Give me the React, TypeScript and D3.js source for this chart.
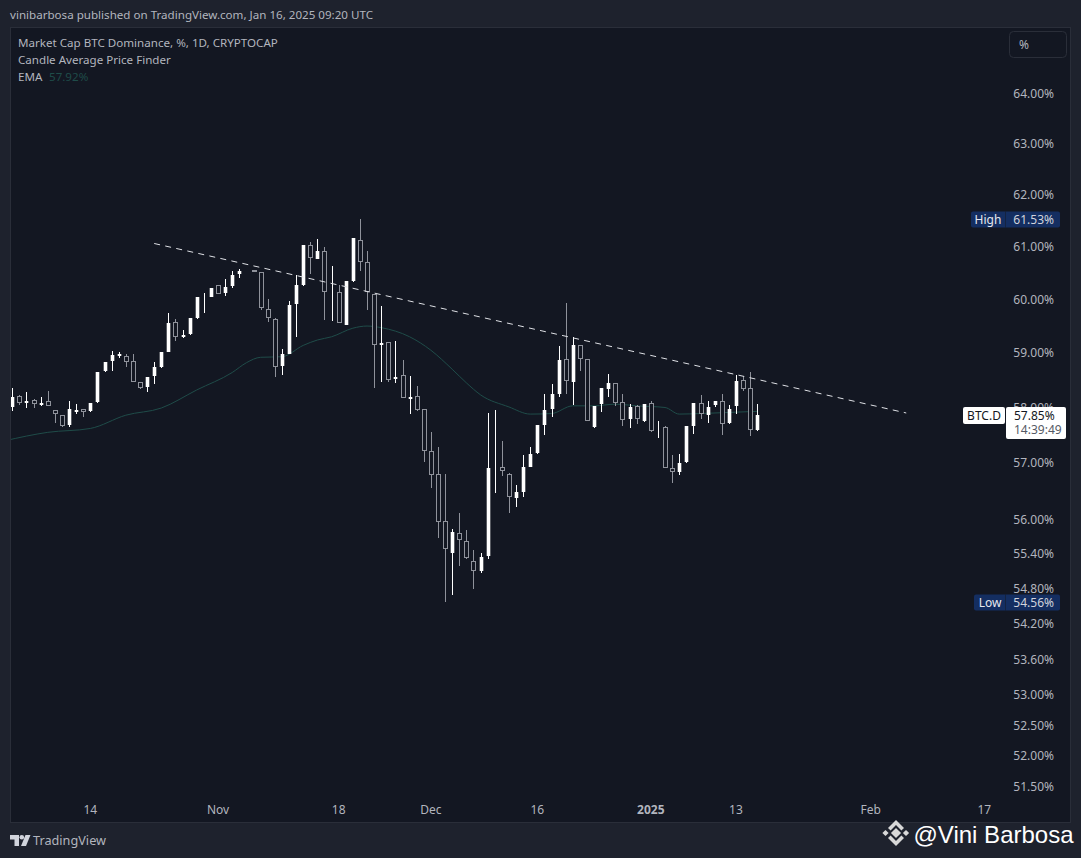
import React from "react";
import * as d3 from "d3";

// BTC.D daily candles, first one is 3 Oct 2024 (values in %)
const opens = [
  57.99, 58.2, 58.09, 58.13, 58.06, 58.11, 57.94, 57.85, 57.67, 57.94, 57.96, 57.93, 58.09, 58.65, 58.84, 58.94, 58.93, 58.84,
  58.45, 58.36, 58.56, 58.74, 59.01, 59.56, 59.3, 59.34, 59.64, 59.95, 60.04, 60.26, 60.11, 60.24, 60.47, 60.65, 60.55, 60.5,
  59.8, 59.63, 58.75, 58.98, 59.9, 60.26, 61.02, 60.76, 60.9, 60.2, 60.13, 59.51, 60.33, 61.11, 60.69, 60.09, 59.14, 59.19,
  58.51, 58.58, 58.16, 58.2, 57.96, 57.2, 56.79, 55.96, 55.4, 55.76, 55.62, 55.27, 55.1, 55.35, 57.5, 56.91, 56.8, 56.37,
  56.47, 56.92, 57.16, 57.67, 57.96, 58.24, 58.87, 58.46, 59.13, 58.87, 57.63, 58.06, 58.33, 58.43, 58.09, 57.78, 58.01, 57.74,
  58.07, 57.6, 57.63, 56.9, 56.83, 57.0, 57.65, 58.08, 57.85, 58.03, 58.11, 57.7, 58.01, 58.5, 58.34, 57.58,
];
const highs = [
  58.35, 58.21, 58.27, 58.15, 58.18, 58.29, 57.94, 57.85, 58.1, 58.06, 57.96, 58.08, 58.64, 58.82, 59.03, 59.0, 58.97, 58.97,
  58.45, 58.55, 58.82, 59.01, 59.73, 59.63, 59.42, 59.64, 60.04, 60.11, 60.21, 60.26, 60.38, 60.53, 60.56, 60.65, 60.55, 60.51,
  60.0, 59.64, 59.06, 59.96, 60.45, 61.02, 61.08, 61.14, 60.99, 60.62, 60.27, 60.34, 61.16, 61.52, 60.91, 60.09, 59.87, 59.19,
  59.21, 58.86, 58.56, 58.38, 57.96, 57.54, 57.28, 56.79, 55.83, 56.1, 55.8, 55.45, 55.4, 57.89, 57.94, 57.39, 56.81, 56.6,
  57.13, 57.28, 57.67, 58.24, 58.42, 59.11, 59.93, 59.28, 59.14, 58.87, 58.02, 58.35, 58.6, 58.44, 58.24, 58.06, 58.03, 58.06,
  58.11, 57.75, 57.66, 57.13, 57.15, 57.65, 58.07, 58.22, 58.1, 58.11, 58.24, 58.03, 58.58, 58.56, 58.64, 58.06,
];
const lows = [
  57.92, 58.03, 57.98, 57.98, 58.02, 58.01, 57.7, 57.63, 57.64, 57.87, 57.82, 57.91, 58.07, 58.63, 58.65, 58.9, 58.74, 58.46,
  58.33, 58.28, 58.42, 58.72, 59.01, 59.22, 59.26, 59.32, 59.62, 59.73, 60.04, 60.1, 60.06, 60.21, 60.39, 60.65, 60.51, 59.79,
  59.57, 58.55, 58.59, 58.97, 59.29, 60.25, 60.47, 60.75, 59.6, 59.59, 59.55, 59.51, 60.32, 60.53, 59.79, 58.34, 58.45, 58.45,
  58.44, 58.16, 57.87, 57.93, 57.01, 56.55, 55.67, 54.56, 54.68, 55.18, 55.3, 54.78, 55.06, 55.3, 56.45, 56.76, 56.1, 56.21,
  56.38, 56.92, 57.15, 57.49, 57.82, 58.18, 58.24, 58.04, 58.66, 57.75, 57.62, 57.9, 58.18, 58.02, 57.65, 57.61, 57.69, 57.72,
  57.55, 57.43, 56.9, 56.63, 56.78, 56.99, 57.51, 57.78, 57.7, 57.99, 57.49, 57.69, 57.87, 58.29, 57.47, 57.57,
];
const closes = [
  58.19, 58.07, 58.11, 58.06, 58.07, 58.01, 57.87, 57.65, 57.96, 57.95, 57.91, 58.07, 58.64, 58.82, 58.96, 58.97, 58.82, 58.46,
  58.35, 58.54, 58.73, 59.0, 59.54, 59.29, 59.32, 59.64, 60.04, 59.95, 60.21, 60.1, 60.22, 60.45, 60.53, 60.65, 60.51, 59.83,
  59.64, 58.74, 58.97, 59.88, 60.27, 61.02, 60.77, 60.91, 60.12, 60.2, 59.55, 60.34, 61.16, 60.7, 60.12, 59.14, 59.17, 58.49,
  58.55, 58.17, 58.18, 57.94, 57.21, 56.78, 55.95, 55.48, 55.77, 55.63, 55.31, 55.09, 55.33, 56.9, 57.5, 56.84, 56.39, 56.47,
  56.91, 57.15, 57.67, 57.94, 58.24, 58.86, 58.47, 59.14, 58.87, 57.75, 58.01, 58.34, 58.44, 58.08, 57.77, 58.0, 57.78, 58.05,
  57.56, 57.6, 56.9, 56.82, 56.99, 57.65, 58.07, 57.88, 58.0, 58.11, 57.69, 57.96, 58.48, 58.32, 57.59, 57.85,
];

// EMA, day number -> value
const emaDays = [-1, 5, 11, 16, 21, 26, 31, 33, 35, 38, 41, 43, 45, 48, 50, 52, 56, 59, 62, 64, 66, 70, 73, 76, 79, 82, 85, 88, 92, 94, 97, 101, 105];
const emaValues = [57.39, 57.54, 57.61, 57.85, 57.98, 58.31, 58.63, 58.81, 58.91, 58.92, 59.13, 59.23, 59.29, 59.45, 59.49, 59.46, 59.29, 59.04, 58.69, 58.44, 58.22, 58.0, 57.87, 57.88, 58.02, 58.02, 58.05, 58.02, 57.99, 57.87, 57.88, 57.9, 57.92];

// drawn trendline: day number and value of both ends
const trendDays = [20, 126];
const trendValues = [61.05, 57.89];

const priceTicks = [64, 63, 62, 61, 60, 59, 58, 57, 56, 55.4, 54.8, 54.2, 53.6, 53, 52.5, 52, 51.5];
const timeTickDates = [
  new Date(Date.UTC(2024, 9, 14)),
  new Date(Date.UTC(2024, 10, 1)),
  new Date(Date.UTC(2024, 10, 18)),
  new Date(Date.UTC(2024, 11, 1)),
  new Date(Date.UTC(2024, 11, 16)),
  new Date(Date.UTC(2025, 0, 1)),
  new Date(Date.UTC(2025, 0, 13)),
  new Date(Date.UTC(2025, 1, 1)),
  new Date(Date.UTC(2025, 1, 17)),
];
const timeTickLabels = ["14", "Nov", "18", "Dec", "16", "2025", "13", "Feb", "17"];

const highValue = 61.53;
const lowValue = 54.56;
const lastValue = 57.85;

const FONT = "'Noto Sans', sans-serif";
const OUTER = "#1e222d";
const PANE = "#131722";
const BORDER = "#2a2e39";
const TEXT = "#b2b5be";
const HOLLOW = "#8f929b";
const EMA_COLOR = "#1f4c49";
const TAG_BLUE = "#142e61";

const firstDay = new Date(Date.UTC(2024, 9, 3));
const dayOf = (n: number) => d3.utcDay.offset(firstDay, n);

const x = d3.scaleUtc().domain([firstDay, new Date(Date.UTC(2025, 1, 17))]).range([12.3, 984.3]);
const y = d3.scaleLog().domain([64, 51.5]).range([93, 786]);

const emaLine = d3
  .line<number>()
  .x((_, i) => x(dayOf(emaDays[i])))
  .y((d) => y(d))
  .curve(d3.curveMonotoneX);

function Candle({ i }: { i: number }) {
  const cx = Math.round(x(dayOf(i)));
  const up = closes[i] >= opens[i];
  const color = up ? "#ffffff" : HOLLOW;
  const top = Math.round(y(Math.max(opens[i], closes[i])));
  const bottom = Math.round(y(Math.min(opens[i], closes[i])));
  const hy = Math.round(y(highs[i]));
  const ly = Math.round(y(lows[i]));
  return (
    <g>
      {ly > hy && <rect x={cx} y={hy} width={1} height={ly - hy} fill={color} />}
      {opens[i] !== closes[i] &&
        (up ? (
          <rect x={cx - 1.3} y={top} width={3.6} height={Math.max(bottom - top, 2)} fill="#ffffff" />
        ) : (
          <rect x={cx - 1.5} y={top + 0.5} width={4} height={Math.max(bottom - top - 1, 1)} fill={PANE} stroke={HOLLOW} strokeWidth={1} />
        ))}
    </g>
  );
}

function SideTag({ label, value }: { label: string; value: number }) {
  const cy = Math.round(y(value)) + 0.5;
  return (
    <g>
      <rect x={label === "High" ? 971 : 974} y={cy - 8} width={label === "High" ? 89 : 86} height={16} rx={2} fill={TAG_BLUE} />
      <rect x={1005} y={cy - 8} width={1} height={16} fill={PANE} opacity={0.5} />
      <text x={label === "High" ? 988 : 990} y={cy} dy="0.35em" textAnchor="middle" fill="#e6e8ee" fontSize={12}>
        {label}
      </text>
      <text x={1054} y={cy} dy="0.35em" textAnchor="end" fill="#d1d4dc" fontSize={12}>
        {value.toFixed(2)}%
      </text>
    </g>
  );
}

// the exchange mark next to the author name
function Watermark() {
  const squares = [
    [896, 833, 3.6],
    [885.5, 833, 2.2],
    [906, 833, 2.2],
  ];
  return (
    <g fill="#d8d8d8">
      {squares.map(([cx, cy, s], k) => (
        <rect key={k} x={cx - s} y={cy - s} width={s * 2} height={s * 2} transform={`rotate(45 ${cx} ${cy})`} />
      ))}
      <path d="M896 820 L904 828 L901.4 830.4 L896 825 L890.6 830.4 L888 828 Z" />
      <path d="M896 846 L904 838 L901.4 835.6 L896 841 L890.6 835.6 L888 838 Z" />
      <text x={913.5} y={843} fontFamily="'Liberation Sans', Arial, sans-serif" fontSize={24} fill="#ffffff">
        @Vini Barbosa
      </text>
    </g>
  );
}

export default function App() {
  const lastY = Math.round(y(lastValue));
  return (
    <svg width={1081} height={858} style={{ position: "fixed", left: 0, top: 0, display: "block" }} fontFamily={FONT}>
      <defs>
        <clipPath id="pane">
          <rect x={11} y={28} width={1059} height={794} />
        </clipPath>
      </defs>
      <rect width={1081} height={858} fill={OUTER} />
      <rect x={10.5} y={27.5} width={1060} height={795} fill={PANE} stroke={BORDER} />

      <text x={10} y={15} dy="0.35em" fill={TEXT} fontSize={11.6}>
        vinibarbosa published on TradingView.com, Jan 16, 2025 09:20 UTC
      </text>

      <text x={18} y={43} dy="0.35em" fill={TEXT} fontSize={11.6}>
        Market Cap BTC Dominance, %, 1D, CRYPTOCAP
      </text>
      <text x={18} y={59.5} dy="0.35em" fill={TEXT} fontSize={11.6}>
        Candle Average Price Finder
      </text>
      <text x={18} y={76.5} dy="0.35em" fill={TEXT} fontSize={11.6}>
        EMA
      </text>
      <text x={49} y={76.5} dy="0.35em" fill={EMA_COLOR} fontSize={11.6}>
        {emaValues[emaValues.length - 1].toFixed(2)}%
      </text>

      <rect x={1009.5} y={31.5} width={57} height={26} rx={4} fill="none" stroke={BORDER} />
      <text x={1019} y={44.5} dy="0.35em" fill={TEXT} fontSize={12}>
        %
      </text>

      <g clipPath="url(#pane)">
        <path d={emaLine(emaValues) ?? ""} fill="none" stroke={EMA_COLOR} strokeWidth={1} />
        {opens.map((_, i) => (
          <Candle key={i} i={i} />
        ))}
        <line
          x1={x(dayOf(trendDays[0]))}
          y1={y(trendValues[0])}
          x2={x(dayOf(trendDays[1]))}
          y2={y(trendValues[1])}
          stroke="#dfe1e6"
          strokeWidth={1}
          strokeDasharray="6 5.3"
        />
      </g>

      {priceTicks.map((t) => (
        <text key={t} x={1054} y={y(t) + 0.8} dy="0.35em" textAnchor="end" fill={TEXT} fontSize={12}>
          {t.toFixed(2)}%
        </text>
      ))}

      {timeTickDates.map((d, i) => (
        <text
          key={i}
          x={x(d)}
          y={810}
          dy="0.35em"
          textAnchor="middle"
          fill={TEXT}
          fontSize={12}
          fontWeight={timeTickLabels[i] === "2025" ? 700 : 400}
        >
          {timeTickLabels[i]}
        </text>
      ))}

      <SideTag label="High" value={highValue} />
      <SideTag label="Low" value={lowValue} />

      <rect x={963} y={lastY - 8} width={42} height={17} rx={2} fill="#ffffff" />
      <text x={984} y={lastY + 0.5} dy="0.35em" textAnchor="middle" fill="#131722" fontSize={12}>
        BTC.D
      </text>
      <rect x={1006} y={lastY - 8} width={60} height={32} rx={2} fill="#ffffff" />
      <text x={1014} y={lastY + 0.5} dy="0.35em" fill="#131722" fontSize={12}>
        {lastValue.toFixed(2)}%
      </text>
      <text x={1014} y={lastY + 15} dy="0.35em" fill="#555965" fontSize={12}>
        14:39:49
      </text>

      <g fill="#d1d4dc">
        <path d="M10 835 H19 V846 H14.5 V839.5 H10 Z" />
        <circle cx={21.8} cy={837.3} r={2.3} />
        <path d="M25.5 835 H30.5 L26 846 H21 Z" />
      </g>
      <text x={33} y={841} dy="0.35em" fill={TEXT} fontSize={12.7}>
        TradingView
      </text>

      <Watermark />
    </svg>
  );
}
